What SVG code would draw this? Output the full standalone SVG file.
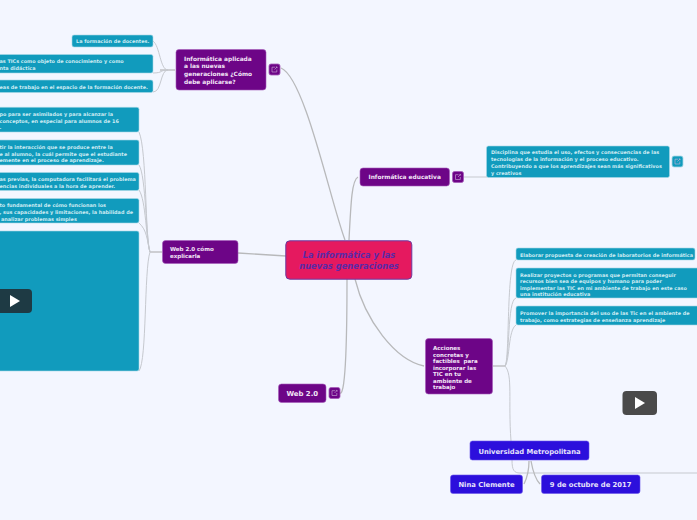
<svg xmlns="http://www.w3.org/2000/svg" width="697" height="520" viewBox="0 0 697 520">
<style>
text{font-family:"DejaVu Sans",Verdana,sans-serif;font-weight:700}
.t rect{fill:#119bbd;stroke:#a9d8e6;stroke-width:.6}
.t text{fill:#cdebf3;font-size:4.93px}
.p rect{fill:#6d0587;stroke:#a45ab8;stroke-width:.6}
.p text{fill:#f3e6f7;font-size:5.85px}
.s text{font-size:5.5px}
.b rect{fill:#2c0fdc;stroke:#6a55ea;stroke-width:.6}
.b text{fill:#e6e2fb;font-size:6.8px;text-anchor:middle}
.c path{fill:none;stroke:#c6c9cf;stroke-width:1}
.c path.m{stroke:#b8b9bb;stroke-width:1.3}
.ip rect{fill:#6d0587;stroke:#a45ab8;stroke-width:.8}
.it rect{fill:#119bbd;stroke:#a9d8e6;stroke-width:.8}
.g path{fill:none;stroke:#cdb4da;stroke-width:.6}
.pl{fill:#fff}
</style>
<defs>
<g id="ic" class="g"><path d="M6 3.200H3V8H7.800V5.500M5.500 5.500L8 3M6.800 2.900H8.100V4.200"/></g>
</defs>
<rect width="697" height="520" fill="#f3f6ff"/>
<g id="connectors" class="c">
<path class="m" d="M281 68C305 78 330 200 345 240"/>
<path class="m" d="M349 240C351 200 352 180 358 177"/>
<path class="m" d="M238 253L286 256"/>
<path class="m" d="M355 279C365 320 395 360 424 366"/>
<path class="m" d="M347 279C347 330 346 396 340 393"/>
<path d="M463 177H487"/>
<path class="m" d="M175 70H160"/>
<path d="M168 70C160 70 160 46 153 41M168 70C160 70 163 73 153 73M168 70C160 70 162 92 153 92"/>
<path class="m" d="M162 252H150"/>
<path d="M150 252C145 240 147 150 139 132M150 252C146 240 146 175 139 165M150 252C146 240 146 200 139 190M150 252C147 240 147 230 139 223M150 252C144 270 147 360 139 371"/>
<path class="m" d="M493 366H505"/>
<path d="M505 366C510 360 506 262 516 260M505 366C510 360 507 300 516 298M505 366C510 360 508 330 516 325"/>
<path d="M505 366C513 375 508 400 511 441M512 460C512 470 514 473 520 473H697"/>
<path class="m" d="M529 461C529 470 527 478 524 484M531 461C533 472 536 480 540 484"/>
</g>
<g id="n-center">
<rect x="285.800" y="240.800" width="126" height="38.400" rx="4" fill="#e5195f" stroke="#6a3aa0" stroke-width="1"/>
<text x="349" y="257.500" text-anchor="middle" font-size="8.350" font-style="italic" fill="#5a2aa8">La informática y las</text>
<text x="349" y="268.500" text-anchor="middle" font-size="8.350" font-style="italic" fill="#5a2aa8">nuevas generaciones</text>
</g>
<g id="n-aplicada" class="p">
<rect x="176" y="49.500" width="90" height="40.500" rx="3"/>
<text x="184" y="60.500">Informática aplicada</text><text x="184" y="68">a las nuevas</text><text x="184" y="76">generaciones ¿Cómo</text><text x="184" y="83.500">debe aplicarse?</text>
</g>
<g id="i-aplicada" class="ip"><rect x="269" y="64" width="11" height="11" rx="2"/><use href="#ic" x="269" y="64"/></g>
<g id="n-educativa" class="p">
<rect x="360" y="168" width="89.500" height="18" rx="3"/>
<text x="404.700" y="179.300" text-anchor="middle">Informática educativa</text>
</g>
<g id="i-educativa" class="ip"><rect x="452.500" y="171.500" width="11" height="11" rx="2"/><use href="#ic" x="452.500" y="171.500"/></g>
<g id="n-disciplina" class="t">
<rect x="486.500" y="146" width="183" height="31.500" rx="2"/>
<text x="491" y="154">Disciplina que estudia el uso, efectos y consecuencias de las</text>
<text x="491" y="161">tecnologías de la información y el proceso educativo.</text>
<text x="491" y="167.500">Contribuyendo a que los aprendizajes sean más significativos</text>
<text x="491" y="174.500">y creativos</text>
</g>
<g id="i-disciplina" class="it"><rect x="672" y="156" width="11" height="11" rx="2"/><use href="#ic" x="672" y="156"/></g>
<g id="n-web-explicarla" class="p s">
<rect x="162.500" y="240.500" width="75.500" height="23" rx="3"/>
<text x="170" y="251">Web 2.0 cómo</text><text x="170" y="258">explicarla</text>
</g>
<g id="n-formacion" class="t"><rect x="72" y="35" width="81" height="12" rx="2"/><text x="76" y="43">La formación de docentes.</text></g>
<g id="n-tics" class="t"><rect x="-5" y="54.500" width="158" height="18.500" rx="2"/><text x="-0.500" y="63">as TICs como objeto de conocimiento y como</text><text x="-0.500" y="69.500">nta didáctica</text></g>
<g id="n-areas" class="t"><rect x="-5" y="80" width="158" height="12.500" rx="2"/><text x="-0.500" y="89">eas de trabajo en el espacio de la formación docente.</text></g>
<g id="n-tiempo" class="t"><rect x="-5" y="107.300" width="144" height="24.700" rx="2"/><text x="-0.500" y="116">po para ser asimilados y para alcanzar la</text><text x="-0.500" y="122.500">conceptos, en especial para alumnos de 16</text><text x="-0.500" y="129">.</text></g>
<g id="n-interaccion" class="t"><rect x="-5" y="140" width="144" height="25" rx="2"/><text x="-0.500" y="148.500">tir la interacción que se produce entre la</text><text x="-0.500" y="155.500">e al alumno, la cuál permite que el estudiante</text><text x="-0.500" y="161.500">emente en el proceso de aprendizaje.</text></g>
<g id="n-previas" class="t"><rect x="-5" y="172.500" width="144" height="18" rx="2"/><text x="-0.500" y="181">as previas, la computadora facilitará el problema</text><text x="-0.500" y="187.500">encias individuales a la hora de aprender.</text></g>
<g id="n-fundamental" class="t"><rect x="-5" y="198.500" width="144" height="24.500" rx="2"/><text x="-0.500" y="207">to fundamental de cómo funcionan los</text><text x="-0.500" y="213.500">, sus capacidades y limitaciones, la habilidad de</text><text x="1" y="220.500">analizar problemas simples</text></g>
<g id="n-video" class="t"><rect x="-5" y="231" width="144" height="140" rx="2"/></g>
<g id="play-left"><rect x="-10" y="289" width="42" height="24" rx="4" fill="#1e3a44"/><path class="pl" d="M10 295L20 301L10 307Z"/></g>
<g id="n-acciones" class="p s">
<rect x="425.500" y="338.500" width="67" height="55.500" rx="3"/>
<text x="433" y="349.500">Acciones</text><text x="433" y="356.500">concretas y</text><text x="433" y="362.500">factibles&#160; para</text><text x="433" y="369.500">incorporar las</text><text x="433" y="375.500">TIC en tu</text><text x="433" y="382.500">ambiente de</text><text x="433" y="388.500">trabajo</text>
</g>
<g id="n-elaborar" class="t"><rect x="516" y="248" width="179" height="12" rx="2"/><text x="520" y="256.500">Elaborar propuesta de creación de laboratorios de informática</text></g>
<g id="n-realizar" class="t"><rect x="516" y="268" width="186" height="30" rx="2"/><text x="520" y="276.500">Realizar proyectos o programas que permitan conseguir</text><text x="520" y="282.500">recursos bien sea de equipos y humano para poder</text><text x="520" y="289.500">implementar las TIC en mi ambiente de trabajo en este caso</text><text x="520" y="295.500">una institución educativa</text></g>
<g id="n-promover" class="t"><rect x="516" y="306" width="186" height="19" rx="2"/><text x="520" y="315">Promover la importancia del uso de las Tic en el ambiente de</text><text x="520" y="321.500">trabajo, como estrategias de enseñanza aprendizaje</text></g>
<g id="play-right"><rect x="622.500" y="391" width="34.500" height="24" rx="4" fill="#4a4a4a"/><path class="pl" d="M635 397L645 403L635 409Z"/></g>
<g id="n-web" class="p"><rect x="278.500" y="384" width="47.500" height="18.500" rx="3"/><text x="302.300" y="395.800" text-anchor="middle" style="font-size:6.900px">Web 2.0</text></g>
<g id="i-web" class="ip"><rect x="329" y="387.500" width="11" height="11" rx="2"/><use href="#ic" x="329" y="387.500"/></g>
<g id="n-universidad" class="b"><rect x="470" y="441" width="119" height="19" rx="2.500"/><text x="529.500" y="453.600">Universidad Metropolitana</text></g>
<g id="n-nina" class="b"><rect x="450.500" y="475" width="72" height="18.500" rx="2.500"/><text x="486.500" y="487">Nina Clemente</text></g>
<g id="n-fecha" class="b"><rect x="541.500" y="475" width="98.500" height="18.500" rx="2.500"/><text x="590.700" y="487">9 de octubre de 2017</text></g>
</svg>
